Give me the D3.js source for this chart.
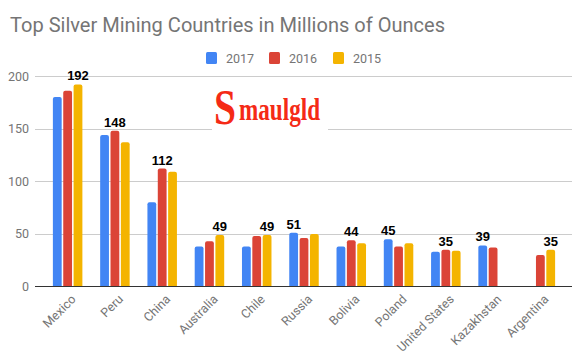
<!DOCTYPE html>
<html>
<head>
<meta charset="utf-8">
<script src="https://cdn.jsdelivr.net/npm/d3@7"></script>
<style>
  html, body { margin: 0; padding: 0; background: #fff; }
  svg { display: block; font-family: Roboto, "Noto Sans", sans-serif; }
</style>
</head>
<body>
<svg id="chart" width="579" height="362"></svg>
<script>
const categories = ["Mexico","Peru","China","Australia","Chile","Russia","Bolivia","Poland","United States","Kazakhstan","Argentina"];
const seriesNames = ["2017","2016","2015"];
const v2017 = [180,144,80,38,38,51,38,45,33,39,null];
const v2016 = [186,148,112,43,48,46,44,38,35,37,30];
const v2015 = [192,137,109,49,49,50,41,41,34,null,35];
const yTicks = [0,50,100,150,200];
const colors = ["#4285f4","#db4437","#f4b400"];
const title = "Top Silver Mining Countries in Millions of Ounces";

const seriesVals = [v2017, v2016, v2015];
const svg = d3.select("#chart");

const plotLeft = 35, plotRight = 572;
const x0 = d3.scaleBand().domain(categories).range([44, 564]).padding(0);
const x1 = d3.scaleBand().domain(seriesNames).range([0, 29.5]).paddingInner(0.15);
const y = d3.scaleLinear().domain([0, 200]).range([286.5, 76]);

// title
svg.append("text").attr("x", 10).attr("y", 32)
  .attr("font-size", 19.5).attr("fill", "#757575")
  .attr("textLength", 435).attr("lengthAdjust", "spacingAndGlyphs")
  .text(title);

// legend
const legendX = [206, 269, 333];
const lg = svg.append("g");
seriesNames.forEach((s, i) => {
  lg.append("rect").attr("x", legendX[i]).attr("y", 52).attr("width", 11).attr("height", 12)
    .attr("rx", 1.5).attr("fill", colors[i]);
  lg.append("text").attr("x", legendX[i] + 20).attr("y", 63)
    .attr("font-size", 12.5).attr("fill", "#757575").text(s);
});

// gridlines
svg.append("g").selectAll("line").data(yTicks.filter(t => t > 0)).join("line")
  .attr("x1", plotLeft).attr("x2", plotRight)
  .attr("y1", d => Math.round(y(d)) + 0.5).attr("y2", d => Math.round(y(d)) + 0.5)
  .attr("stroke", "#cccccc").attr("stroke-width", 1);

// y axis labels
const yAxis = d3.axisLeft(y).tickValues(yTicks).tickSize(0).tickPadding(0);
const yg = svg.append("g").attr("transform", "translate(29,0)").call(yAxis);
yg.select(".domain").remove();
yg.selectAll("text").attr("font-size", 12.5).attr("fill", "#757575")
  .attr("font-family", "Roboto, sans-serif");

// logo box
const logo = svg.append("g");
logo.append("rect").attr("x", 212).attr("y", 82).attr("width", 116).attr("height", 50).attr("fill", "#fff");
logo.append("text").attr("x", 214).attr("y", 124)
  .attr("font-family", "'Liberation Serif', serif").attr("font-weight", "bold")
  .attr("font-size", 50).attr("fill", "#f52a16")
  .attr("textLength", 22).attr("lengthAdjust", "spacingAndGlyphs").text("S");
logo.append("text").attr("x", 239).attr("y", 120)
  .attr("font-family", "'Liberation Serif', serif").attr("font-weight", "bold")
  .attr("font-size", 32).attr("fill", "#f52a16")
  .attr("textLength", 81).attr("lengthAdjust", "spacingAndGlyphs").text("maulgld");

// bars
function barPath(x, y0, w, h, r) {
  r = Math.min(r, h, w / 2);
  return `M${x},${y0}V${y0 - h + r}Q${x},${y0 - h} ${x + r},${y0 - h}H${x + w - r}Q${x + w},${y0 - h} ${x + w},${y0 - h + r}V${y0}Z`;
}
const barData = [];
categories.forEach((c, ci) => {
  seriesNames.forEach((s, si) => {
    const v = seriesVals[si][ci];
    if (v != null) barData.push({ c, s, si, v });
  });
});
const groupOffset = (x0.bandwidth() - 29.5) / 2;
svg.append("g").selectAll("path").data(barData).join("path")
  .attr("fill", d => colors[d.si])
  .attr("d", d => barPath(x0(d.c) + groupOffset + x1(d.s), y(0), x1.bandwidth(), y(0) - y(d.v), 2));

// baseline
svg.append("line").attr("x1", plotLeft).attr("x2", plotRight)
  .attr("y1", 286.5).attr("y2", 286.5).attr("stroke", "#333").attr("stroke-width", 1.2);

// value labels (max per country)
const labels = categories.map((c, ci) => {
  let best = -1, bv = -Infinity;
  seriesVals.forEach((arr, si) => { if (arr[ci] != null && arr[ci] > bv) { bv = arr[ci]; best = si; } });
  return { c, si: best, v: bv };
});
svg.append("g").selectAll("text").data(labels).join("text")
  .attr("x", d => x0(d.c) + groupOffset + x1(seriesNames[d.si]) + x1.bandwidth() / 2)
  .attr("y", d => y(d.v) - 4)
  .attr("text-anchor", "middle")
  .attr("font-family", "'Liberation Sans', Arial, sans-serif")
  .attr("font-weight", "bold").attr("font-size", 13).attr("fill", "#000")
  .text(d => d.v);

// x labels
svg.append("g").selectAll("text").data(categories).join("text")
  .attr("transform", d => `translate(${x0(d) + x0.bandwidth() / 2 + 9},${300}) rotate(-45)`)
  .attr("text-anchor", "end")
  .attr("font-size", 12.5).attr("fill", "#757575")
  .text(d => d);
</script>
</body>
</html>
